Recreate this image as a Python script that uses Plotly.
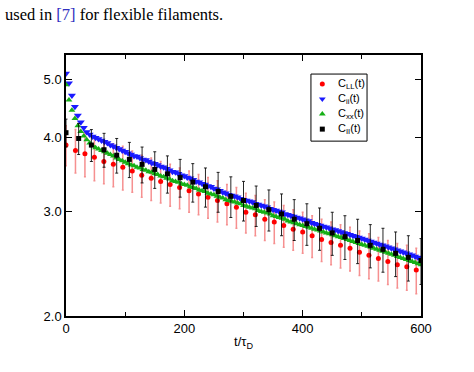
import plotly.graph_objects as go

# ---------------- data ----------------
x_ll = [0, 16, 32, 48, 64, 80, 96, 112, 128, 144, 160, 176, 192, 208, 224, 240, 256, 272, 288,
        304, 320, 336, 352, 368, 384, 400, 416, 432, 448, 464, 480, 496, 512, 528, 544, 560, 576, 592]
c_ll = [3.88, 3.80, 3.75, 3.70, 3.64, 3.60, 3.56, 3.51, 3.45, 3.41, 3.37, 3.33, 3.29, 3.25, 3.21, 3.17,
        3.13, 3.09, 3.05, 2.99, 2.96, 2.91, 2.88, 2.84, 2.80, 2.77, 2.73, 2.69, 2.66, 2.63, 2.60, 2.56,
        2.53, 2.50, 2.47, 2.44, 2.42, 2.39]
e_ll = [0.30, 0.32, 0.32, 0.32, 0.30, 0.30, 0.30, 0.28, 0.28, 0.28, 0.27, 0.27, 0.26, 0.26, 0.25, 0.25,
        0.25, 0.24, 0.24, 0.23, 0.23, 0.23, 0.23, 0.23, 0.22, 0.22, 0.22, 0.22, 0.22, 0.22, 0.22, 0.22,
        0.22, 0.21, 0.21, 0.21, 0.21, 0.21]

x_dense = [0, 5, 10, 15, 20, 25, 30, 35, 40, 45, 50, 55, 60, 65, 70, 75, 80, 85, 90, 95,
           100, 105, 110, 115, 120, 125, 130, 135, 140, 145, 150, 155, 160, 165, 170, 175, 180, 185, 190, 195,
           200, 205, 210, 215, 220, 225, 230, 235, 240, 245, 250, 255, 260, 265, 270, 275, 280, 285, 290, 295,
           300, 305, 310, 315, 320, 325, 330, 335, 340, 345, 350, 355, 360, 365, 370, 375, 380, 385, 390, 395,
           400, 405, 410, 415, 420, 425, 430, 435, 440, 445, 450, 455, 460, 465, 470, 475, 480, 485, 490, 495,
           500, 505, 510, 515, 520, 525, 530, 535, 540, 545, 550, 555, 560, 565, 570, 575, 580, 585, 590, 595,
           600]
c_ii = [5.12, 4.93, 4.70, 4.50, 4.35, 4.24, 4.15, 4.08, 4.04, 4.01, 3.99, 3.97, 3.95, 3.93, 3.91, 3.88, 3.86, 3.84, 3.82, 3.80,
        3.78, 3.76, 3.74, 3.72, 3.71, 3.69, 3.67, 3.66, 3.64, 3.62, 3.61, 3.59, 3.57, 3.56, 3.54, 3.52, 3.50, 3.49, 3.47, 3.45,
        3.44, 3.42, 3.41, 3.39, 3.37, 3.36, 3.34, 3.33, 3.31, 3.30, 3.28, 3.27, 3.25, 3.23, 3.22, 3.20, 3.19, 3.18, 3.17, 3.15,
        3.14, 3.13, 3.12, 3.11, 3.09, 3.08, 3.07, 3.06, 3.05, 3.03, 3.02, 3.01, 3.00, 2.99, 2.97, 2.96, 2.95, 2.94, 2.93, 2.92,
        2.91, 2.90, 2.89, 2.87, 2.86, 2.85, 2.84, 2.83, 2.82, 2.81, 2.80, 2.79, 2.78, 2.77, 2.76, 2.75, 2.74, 2.73, 2.72, 2.71,
        2.70, 2.69, 2.68, 2.67, 2.66, 2.65, 2.64, 2.63, 2.62, 2.61, 2.60, 2.59, 2.58, 2.57, 2.56, 2.55, 2.54, 2.53, 2.52, 2.51,
        2.50]
c_xx = [4.90, 4.62, 4.44, 4.30, 4.18, 4.09, 4.02, 3.96, 3.91, 3.87, 3.84, 3.82, 3.80, 3.78, 3.76, 3.74, 3.72, 3.69, 3.67, 3.65,
        3.63, 3.61, 3.59, 3.58, 3.56, 3.55, 3.53, 3.52, 3.50, 3.49, 3.47, 3.46, 3.44, 3.43, 3.41, 3.40, 3.38, 3.37, 3.36, 3.34,
        3.33, 3.32, 3.30, 3.29, 3.28, 3.26, 3.25, 3.24, 3.22, 3.21, 3.20, 3.18, 3.17, 3.16, 3.14, 3.13, 3.12, 3.11, 3.10, 3.09,
        3.07, 3.06, 3.05, 3.04, 3.03, 3.01, 3.00, 2.99, 2.98, 2.97, 2.95, 2.94, 2.93, 2.92, 2.91, 2.89, 2.88, 2.87, 2.86, 2.85,
        2.84, 2.83, 2.82, 2.81, 2.80, 2.79, 2.78, 2.77, 2.76, 2.75, 2.74, 2.73, 2.72, 2.71, 2.70, 2.69, 2.68, 2.67, 2.66, 2.65,
        2.64, 2.63, 2.62, 2.61, 2.60, 2.59, 2.58, 2.57, 2.56, 2.55, 2.54, 2.53, 2.52, 2.51, 2.50, 2.49, 2.48, 2.47, 2.46, 2.45,
        2.44]
e_ii = 0.07
e_xx = 0.02

x_par = [0, 21.4, 42.9, 64.3, 85.7, 107.1, 128.6, 150, 171.4, 192.9, 214.3, 235.7, 257.1, 278.6,
         300, 321.4, 342.9, 364.3, 385.7, 407.1, 428.6, 450, 471.4, 492.9, 514.3, 535.7, 557.1, 578.6, 600]
c_par = [4.07, 3.98, 3.88, 3.81, 3.73, 3.67, 3.60, 3.53, 3.47, 3.42, 3.36, 3.30, 3.24, 3.18,
         3.13, 3.07, 3.02, 2.97, 2.91, 2.86, 2.81, 2.76, 2.72, 2.68, 2.63, 2.59, 2.55, 2.51, 2.48]
e_par = [0.22, 0.24, 0.24, 0.25, 0.25, 0.25, 0.25, 0.25, 0.25, 0.25, 0.25, 0.25, 0.25, 0.25,
         0.24, 0.24, 0.24, 0.24, 0.23, 0.23, 0.23, 0.23, 0.23, 0.23, 0.22, 0.22, 0.22, 0.22, 0.22]

y_ticks = [2, 3, 4, 5]
y_tick_labels = ["2.0", "3.0", "4.0", "5.0"]
x_ticks = [0, 200, 400, 600]
legend_names = ["C<sub>LL</sub>(t)", "C<sub>ii</sub>(t)", "C<sub>xx</sub>(t)", "C<sub>II</sub>(t)"]

# styles
col_ll, col_ii, col_xx, col_par = "#ff0000", "#1a1aff", "#16b016", "#000000"
sym = ["circle", "triangle-down", "triangle-up", "square"]
cols = [col_ll, col_ii, col_xx, col_par]
sizes = [5, 7, 6, 5]

# ---------------- figure ----------------
fig = go.Figure()

fig.add_trace(go.Scatter(
    x=x_ll, y=c_ll, mode="markers", showlegend=False,
    marker=dict(symbol=sym[0], size=sizes[0], color=col_ll),
    error_y=dict(type="data", array=e_ll, color="rgba(240,70,70,0.6)", thickness=1.5, width=1),
))
fig.add_trace(go.Scatter(
    x=x_dense, y=c_ii, mode="markers", showlegend=False,
    marker=dict(symbol=sym[1], size=sizes[1], color=col_ii),
    error_y=dict(type="data", value=e_ii, color="rgba(110,110,255,0.85)", thickness=1, width=2.5),
))
fig.add_trace(go.Scatter(
    x=x_dense, y=c_xx, mode="markers", showlegend=False,
    marker=dict(symbol=sym[2], size=sizes[2], color=col_xx),
    error_y=dict(type="data", value=e_xx, color="rgba(60,190,60,0.8)", thickness=1, width=1),
))
fig.add_trace(go.Scatter(
    x=x_par, y=c_par, mode="markers", showlegend=False,
    marker=dict(symbol=sym[3], size=sizes[3], color=col_par),
    error_y=dict(type="data", array=e_par, color="rgba(0,0,0,0.85)", thickness=1, width=1.5),
))

# custom compact legend (markers on a hidden overlay axis in [0,1] paper-like units)
leg_y = [0.889, 0.831, 0.774, 0.716]
for i in range(4):
    fig.add_trace(go.Scatter(
        x=[0.722], y=[leg_y[i]], xaxis="x2", yaxis="y2", mode="markers", showlegend=False,
        marker=dict(symbol=sym[i], size=min(sizes[i], 6), color=cols[i]), hoverinfo="skip",
    ))

annotations = [
    dict(text="used in <span style='color:#3030c0'>[7]</span> for flexible filaments.",
         xref="paper", yref="paper", x=-0.178, y=1.155, xanchor="left", yanchor="middle",
         showarrow=False, font=dict(family="Liberation Serif, DejaVu Serif, serif", size=16.5, color="black")),
]
for i in range(4):
    annotations.append(dict(
        text=legend_names[i], xref="paper", yref="paper", x=0.760, y=leg_y[i],
        xanchor="left", yanchor="middle", showarrow=False,
        font=dict(size=11, family="Liberation Sans, Arial, sans-serif", color="black"),
    ))

fig.update_layout(
    width=474, height=372,
    margin=dict(l=66, r=53, t=55, b=56),
    paper_bgcolor="white", plot_bgcolor="white",
    font=dict(family="Liberation Sans, Arial, sans-serif", color="black", size=13),
    showlegend=False,
    annotations=annotations,
    shapes=[dict(type="rect", xref="paper", yref="paper", x0=0.690, x1=0.848, y0=0.670, y1=0.927,
                 line=dict(color="black", width=1), fillcolor="white", layer="below")],
    xaxis2=dict(overlaying="x", range=[0, 1], visible=False, fixedrange=True),
    yaxis2=dict(overlaying="y", range=[0, 1], visible=False, fixedrange=True),
    xaxis=dict(
        range=[0, 600], tickvals=x_ticks, ticktext=[str(v) for v in x_ticks],
        ticks="inside", ticklen=6, tickcolor="black", tickwidth=1,
        minor=dict(ticks="inside", ticklen=4, dtick=100, tickcolor="black", tickwidth=1),
        showline=True, linecolor="black", linewidth=1.5, mirror="ticks",
        showgrid=False, zeroline=False,
        title=dict(text="t/τ<sub>D</sub>", font=dict(size=13), standoff=2),
        tickfont=dict(size=13),
    ),
    yaxis=dict(
        type="log", range=[0.30103, 0.7404],
        tickvals=y_ticks, ticktext=y_tick_labels,
        ticks="inside", ticklen=6, tickcolor="black", tickwidth=1,
        showline=True, linecolor="black", linewidth=1.5, mirror="ticks",
        showgrid=False, zeroline=False,
        tickfont=dict(size=13),
    ),
)

fig.write_html("out.html", config={"displayModeBar": False},
               post_script="document.body.style.margin='0';document.body.style.overflow='hidden';")
